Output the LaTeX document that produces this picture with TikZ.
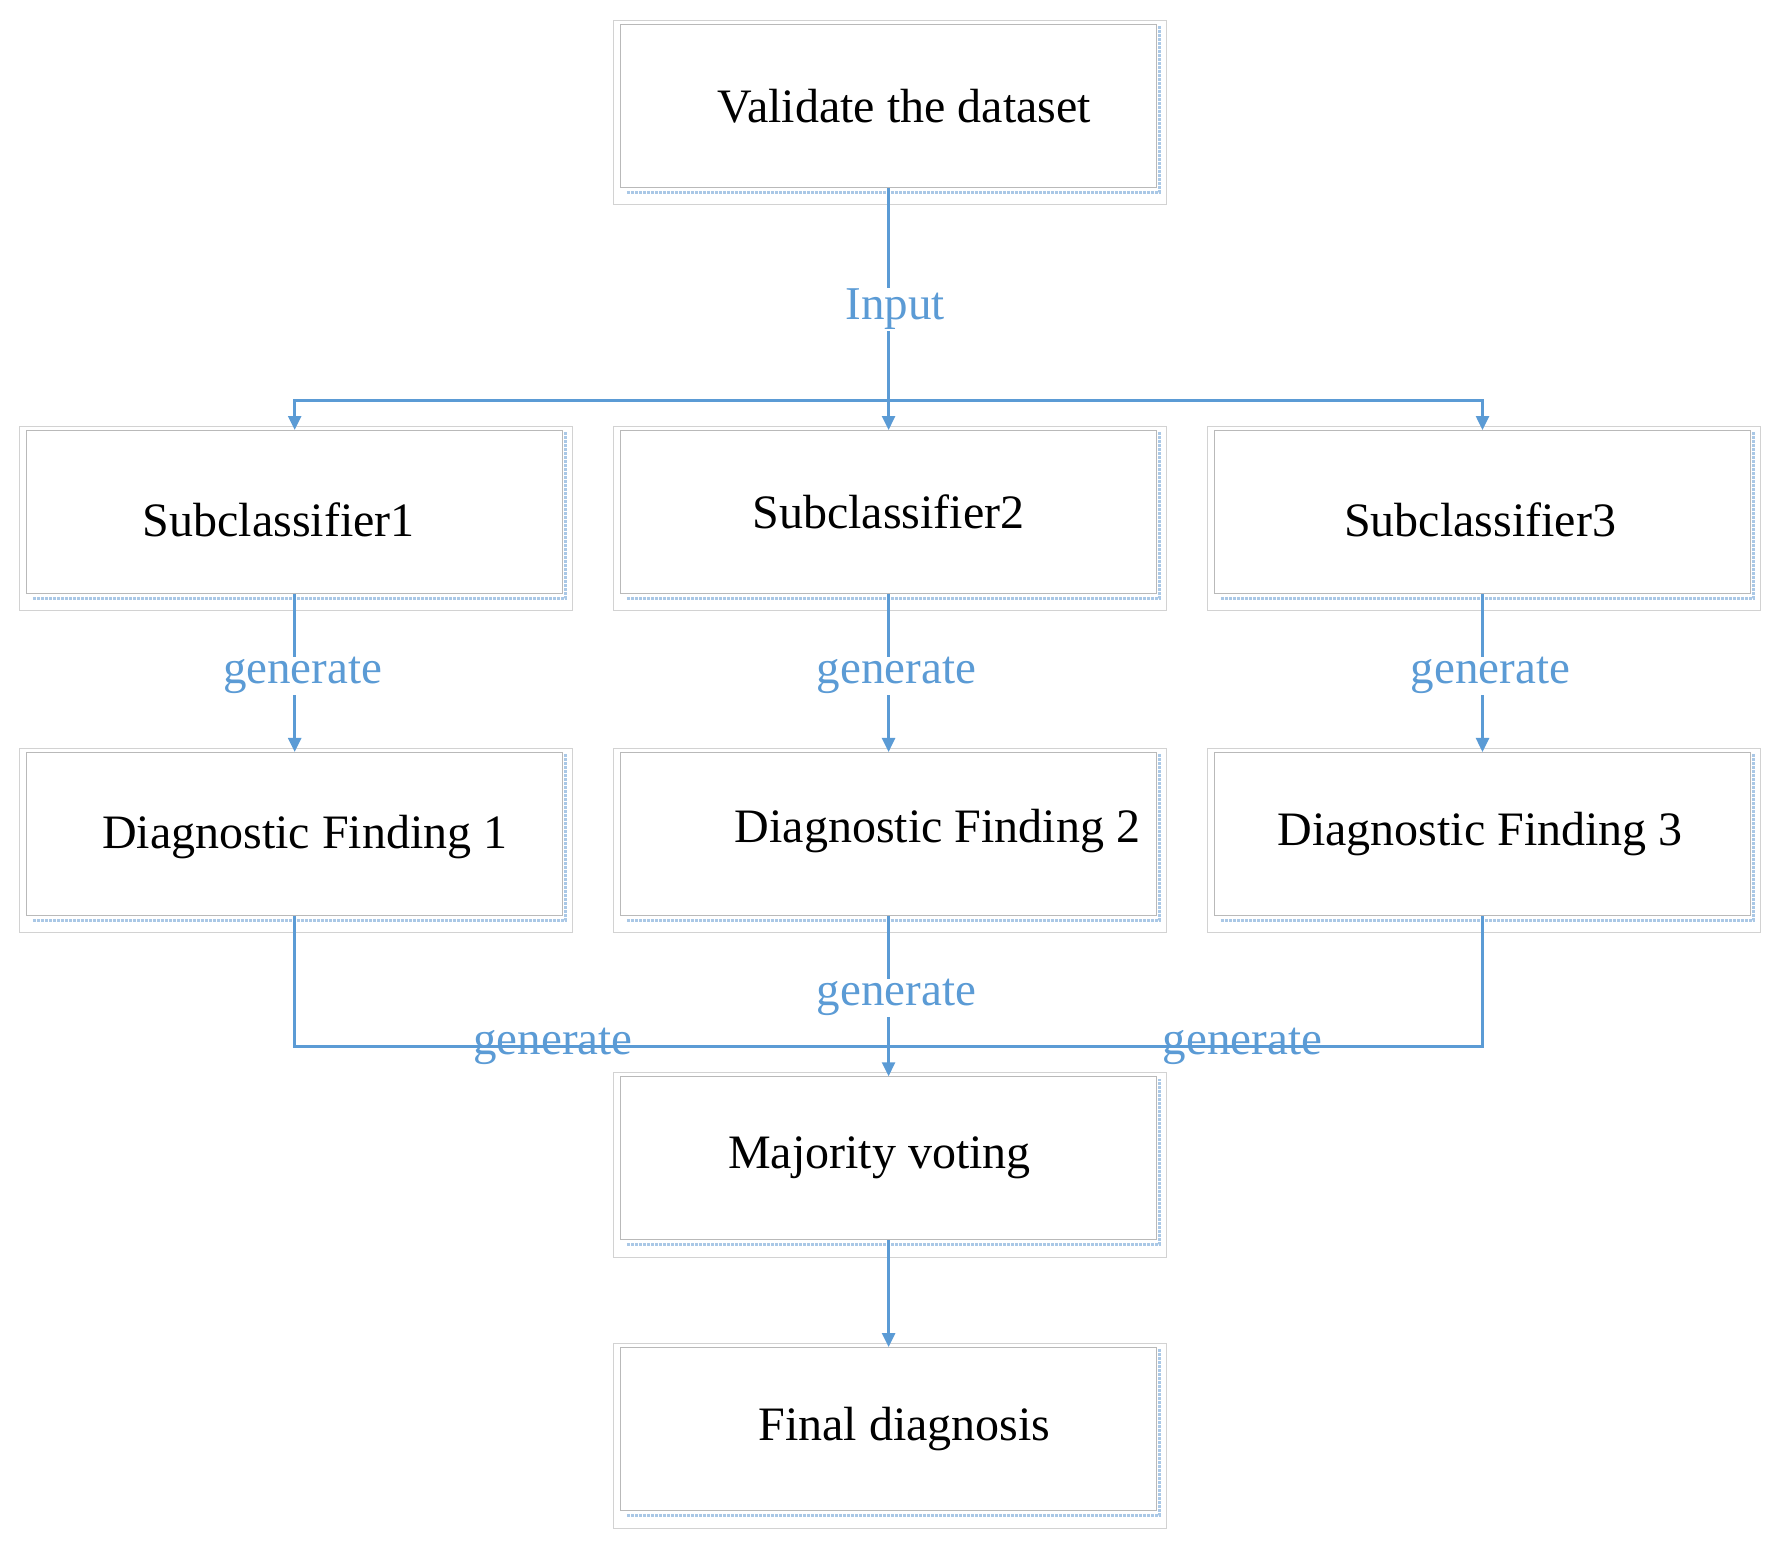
\documentclass[tikz,border=0pt]{standalone}
\usepackage{fontspec}
\setmainfont{Liberation Serif}
\usetikzlibrary{arrows.meta}
\definecolor{lb}{RGB}{91,155,213}
\definecolor{dotc}{RGB}{170,200,230}
\begin{document}
\begin{tikzpicture}[x=1.1378pt,y=-1.1378pt,
  box/.style={draw=gray!55,line width=1pt,fill=white,minimum width=535.5pt,minimum height=163pt,inner sep=0pt},
  txt/.style={font=\fontsize{48}{54}\selectfont,text=black},
  lab/.style={font=\fontsize{47}{52}\selectfont,text=lb,fill=white,inner sep=1pt},
  ln/.style={draw=lb,line width=2.6pt},
  arr/.style={ln,-{Triangle[length=14pt,width=13pt]}}]
\useasboundingbox (0,0) rectangle (1568,1354);
\newcommand{\bx}[3]{%
  \draw[gray!35,line width=1pt] (#2-242,#3-75) rectangle (#2+244,#3+87);
  \draw[dotc,densely dotted,line width=3pt] (#2-230,#3+76) -- (#2+238,#3+76) -- (#2+238,#3-70);
  \node[box] (#1) at (#2,#3) {};}
\bx{v}{781}{93}
\bx{s1}{259}{450}\bx{s2}{781}{450}\bx{s3}{1303}{450}
\bx{d1}{259}{733}\bx{d2}{781}{733}\bx{d3}{1303}{733}
\bx{m}{781}{1018}
\bx{f}{781}{1256}
\node[txt] (tv) at (795,93) {Validate the dataset};
\node[txt] (ts1) at (245,457) {Subclassifier1};
\node[txt] (ts2) at (781,450) {Subclassifier2};
\node[txt] (ts3) at (1301,457) {Subclassifier3};
\node[txt] (td1) at (268,736) {Diagnostic Finding 1};
\node[txt] (td2) at (824,730) {Diagnostic Finding 2};
\node[txt] (td3) at (1301,733) {Diagnostic Finding 3};
\node[txt] (tm) at (773,1018) {Majority voting};
\node[txt] (tf) at (795,1256) {Final diagnosis};
\coordinate (bus) at (781,352);
\draw[ln] (v.south) -- (bus);
\draw[arr] (bus) -- (s2.north);
\draw[arr] (bus) -| (s1.north);
\draw[arr] (bus) -| (s3.north);
\node[lab] (li) at (787,272) {Input};
\foreach \a/\b in {s1/d1,s2/d2,s3/d3} \draw[arr] (\a.south) -- (\b.north);
\node[lab] (g1) at (266,594) {generate};
\node[lab] (g2) at (788,594) {generate};
\node[lab] (g3) at (1310,594) {generate};
\coordinate (j) at (781,920);
\draw[ln] (d1.south) |- (j);
\draw[ln] (d3.south) |- (j);
\draw[arr] (d2.south) -- (m.north);
\node[lab] (g4) at (788,877) {generate};
\node[lab,fill=none] (g5) at (486,920) {generate};
\node[lab,fill=none] (g6) at (1092,920) {generate};
\draw[arr] (m.south) -- (f.north);
\end{tikzpicture}
\end{document}
